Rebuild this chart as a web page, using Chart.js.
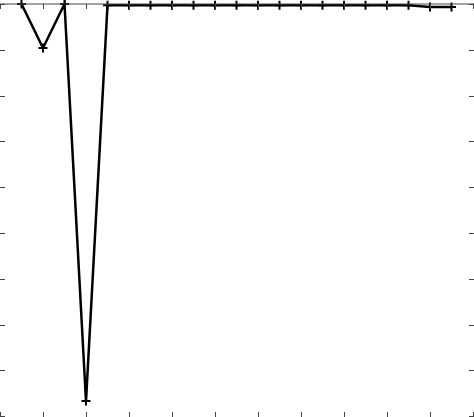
<!DOCTYPE html>
<html>
<head>
<meta charset="utf-8">
<script src="https://cdn.jsdelivr.net/npm/chart.js@4/dist/chart.umd.min.js"></script>
<style>
  html, body { margin: 0; padding: 0; background: #fff; }
  #wrap { width: 474px; height: 417px; }
</style>
</head>
<body>
<div id="wrap"><canvas id="lineChart"></canvas></div>
<script>
// Data
const xValues = [0.5, 1, 1.5, 2, 2.5, 3, 3.5, 4, 4.5, 5, 5.5, 6, 6.5, 7, 7.5, 8, 8.5, 9, 9.5, 10, 10.5];
const yValues = [0, -0.96, 0, -8.67, -0.03, -0.03, -0.03, -0.03, -0.03, -0.03, -0.03, -0.03,
                 -0.03, -0.03, -0.03, -0.03, -0.03, -0.03, -0.03, -0.065, -0.065];
const xTicks = [0, 1, 2, 3, 4, 5, 6, 7, 8, 9, 10, 11];
const yTicks = [0, -1, -2, -3, -4, -5, -6, -7, -8, -9];

// Inward tick marks on all four sides, plus the top axis line
const frameTicks = {
  id: 'frameTicks',
  afterDatasetsDraw(chart) {
    const { ctx, chartArea, scales } = chart;
    const len = 5;
    ctx.save();
    ctx.strokeStyle = '#444';
    ctx.lineWidth = 1;
    ctx.beginPath();
    const yTop = scales.y.getPixelForValue(0);
    ctx.moveTo(chartArea.left, yTop);
    ctx.lineTo(chartArea.right, yTop);
    xTicks.forEach(v => {
      const px = Math.round(scales.x.getPixelForValue(v)) + 0.5;
      ctx.moveTo(px, yTop);
      ctx.lineTo(px, yTop + len);
      ctx.moveTo(px, chartArea.bottom);
      ctx.lineTo(px, chartArea.bottom - len);
    });
    yTicks.forEach(v => {
      const py = Math.round(scales.y.getPixelForValue(v)) + 0.5;
      ctx.moveTo(chartArea.left, py);
      ctx.lineTo(chartArea.left + len, py);
      ctx.moveTo(chartArea.right, py);
      ctx.lineTo(chartArea.right - len, py);
    });
    ctx.stroke();
    ctx.restore();
  }
};

const ctx = document.getElementById('lineChart');
new Chart(ctx, {
  type: 'line',
  data: {
    datasets: [{
      data: xValues.map((x, i) => ({ x: x, y: yValues[i] })),
      borderColor: '#000',
      borderWidth: 2.5,
      tension: 0,
      pointStyle: 'cross',
      pointRadius: 4.5,
      pointBorderWidth: 2,
      pointBorderColor: '#000',
      clip: false
    }]
  },
  options: {
    responsive: true,
    maintainAspectRatio: false,
    animation: false,
    layout: { padding: 0, autoPadding: false },
    plugins: {
      legend: { display: false },
      tooltip: { enabled: false }
    },
    scales: {
      x: { type: 'linear', min: 0, max: 474 / 43, display: false },
      y: { type: 'linear', min: -413 / 45.8, max: 4 / 45.8, display: false }
    }
  },
  plugins: [frameTicks]
});
</script>
</body>
</html>
